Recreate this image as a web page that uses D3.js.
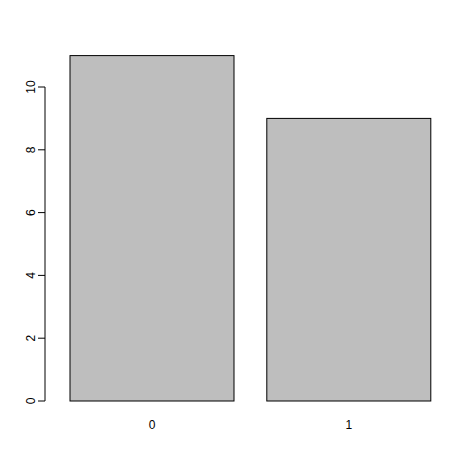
<!DOCTYPE html>
<html>
<head>
<meta charset="utf-8">
<script src="https://cdn.jsdelivr.net/npm/d3@7"></script>
<style>
body { margin: 0; background: #fff; }
text { font-family: "Liberation Sans", Arial, sans-serif; font-size: 12px; fill: #000; }
</style>
</head>
<body>
<svg id="chart" width="474" height="474"></svg>
<script>
// data
var categories = ["0", "1"];
var counts = [11, 9];
var yTicks = [0, 2, 4, 6, 8, 10];

var svg = d3.select("#chart");

// barplot layout: width 1, space 0.2
var xScale = d3.scaleLinear()
    .domain([0.2, 2.4])
    .range([70, 430.8]);
var yScale = d3.scaleLinear()
    .domain([0, 10])
    .range([401, 87]);

svg.selectAll("rect.bar")
    .data(counts)
    .enter()
    .append("rect")
    .attr("class", "bar")
    .attr("x", (d, i) => xScale(0.2 + i * 1.2))
    .attr("width", xScale(1.2) - xScale(0.2))
    .attr("y", (d) => yScale(d))
    .attr("height", (d) => yScale(0) - yScale(d))
    .attr("fill", "#bebebe")
    .attr("stroke", "#000")
    .attr("stroke-width", 1);

// y axis
var yAxis = d3.axisLeft(yScale)
    .tickValues(yTicks)
    .tickSize(7)
    .tickFormat(d3.format("d"));
var gy = svg.append("g")
    .attr("transform", "translate(45,0)")
    .call(yAxis);
gy.select(".domain").attr("d", "M0," + yScale(0) + "V" + yScale(10));
gy.selectAll("text")
    .attr("font-size", 12)
    .attr("font-family", null)
    .attr("x", 0).attr("dy", 0)
    .attr("transform", (d) => "translate(-10," + yScale(d) + ") rotate(-90)")
    .attr("y", 0)
    .style("text-anchor", "middle");
gy.selectAll(".tick").attr("transform", null);
gy.selectAll(".tick line").attr("y1", (d) => yScale(d)).attr("y2", (d) => yScale(d));

// category labels
svg.selectAll("text.cat")
    .data(categories)
    .enter()
    .append("text")
    .attr("class", "cat")
    .attr("x", (d, i) => xScale(0.7 + i * 1.2))
    .attr("y", 429)
    .attr("text-anchor", "middle")
    .text((d) => d);
</script>
</body>
</html>
